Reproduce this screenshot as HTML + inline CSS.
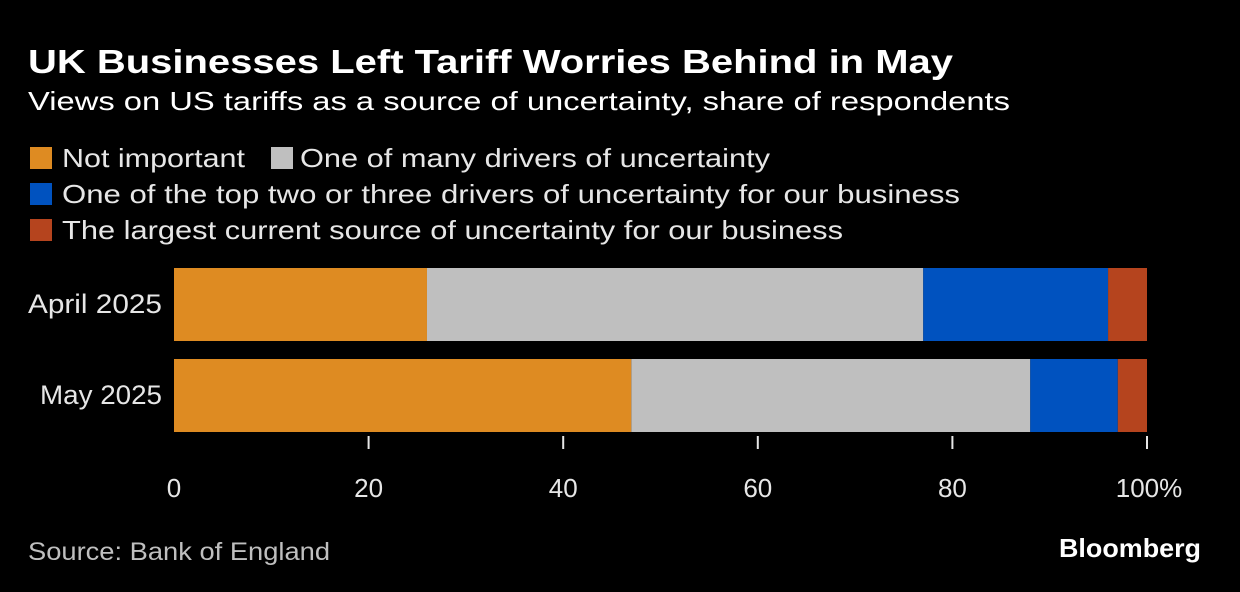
<!DOCTYPE html>
<html><head><meta charset="utf-8"><style>
html,body{margin:0;padding:0;background:#000;}
svg{display:block;font-family:"Liberation Sans",sans-serif;}
</style></head><body>
<svg id="chart" width="1240" height="592" viewBox="0 0 1240 592">
<rect width="1240" height="592" fill="#000"/>
<text x="28" y="73" fill="#fff" font-size="33" font-weight="bold" textLength="925" lengthAdjust="spacingAndGlyphs">UK Businesses Left Tariff Worries Behind in May</text>
<text x="28" y="110" fill="#fff" font-size="26" textLength="982" lengthAdjust="spacingAndGlyphs">Views on US tariffs as a source of uncertainty, share of respondents</text>
<g>
<rect x="30" y="147" width="22" height="22" fill="#de8b22"/>
<text x="62" y="167" fill="#e6e6e6" font-size="26" textLength="183" lengthAdjust="spacingAndGlyphs">Not important</text>
<rect x="271" y="147" width="22" height="22" fill="#bfbfbf"/>
<text x="300" y="167" fill="#e6e6e6" font-size="26" textLength="470" lengthAdjust="spacingAndGlyphs">One of many drivers of uncertainty</text>
<rect x="30" y="183" width="22" height="22" fill="#0052bf"/>
<text x="62" y="203" fill="#e6e6e6" font-size="26" textLength="898" lengthAdjust="spacingAndGlyphs">One of the top two or three drivers of uncertainty for our business</text>
<rect x="30" y="219" width="22" height="22" fill="#b5441e"/>
<text x="62" y="239" fill="#e6e6e6" font-size="26" textLength="781" lengthAdjust="spacingAndGlyphs">The largest current source of uncertainty for our business</text>
</g>
<g id="bars"></g>
<g id="axis"></g>
<text x="28" y="560" fill="#bfbfbf" font-size="25" textLength="302" lengthAdjust="spacingAndGlyphs">Source: Bank of England</text>
<text x="1059" y="557" fill="#fff" font-size="26" font-weight="bold" textLength="142" lengthAdjust="spacingAndGlyphs">Bloomberg</text>
</svg>
<script>
const categories = ["April 2025", "May 2025"];
const notImportant = [26, 47];
const oneOfMany = [51, 41];
const topTwoThree = [19, 9];
const largest = [4, 3];
const tickValues = [0, 20, 40, 60, 80, 100];
const tickLabels = ["0", "20", "40", "60", "80", "100%"];

const NS = "http://www.w3.org/2000/svg";
const x0 = 174, x1 = 1147;
const xScale = v => x0 + (x1 - x0) * v / 100;
const rowTop = [268, 359], barH = 73;
const labelWidths = [134, 122];
const series = [
  {name: "not-important", vals: notImportant, color: "#de8b22"},
  {name: "one-of-many", vals: oneOfMany, color: "#bfbfbf"},
  {name: "top-two-three", vals: topTwoThree, color: "#0052bf"},
  {name: "largest", vals: largest, color: "#b5441e"}
];
const barsG = document.getElementById("bars");
categories.forEach((c, i) => {
  let cum = 0;
  series.forEach(s => {
    const r = document.createElementNS(NS, "rect");
    
    
    r.setAttribute("x", xScale(cum));
    r.setAttribute("width", xScale(cum + s.vals[i]) - xScale(cum));
    r.setAttribute("y", rowTop[i]);
    r.setAttribute("height", barH);
    r.setAttribute("fill", s.color);
    barsG.appendChild(r);
    cum += s.vals[i];
  });
  const t = document.createElementNS(NS, "text");
  
  
  t.setAttribute("x", 162);
  t.setAttribute("y", rowTop[i] + 45);
  t.setAttribute("text-anchor", "end");
  t.setAttribute("fill", "#e6e6e6");
  t.setAttribute("font-size", "27");
  t.setAttribute("textLength", labelWidths[i]);
  t.setAttribute("lengthAdjust", "spacingAndGlyphs");
  t.textContent = c;
  barsG.appendChild(t);
});
const axisG = document.getElementById("axis");
tickValues.forEach((v, i) => {
  const x = xScale(v);
  if (v !== 0) {
    const l = document.createElementNS(NS, "line");
    
    
    l.setAttribute("x1", x); l.setAttribute("x2", x);
    l.setAttribute("y1", 436); l.setAttribute("y2", 449);
    l.setAttribute("stroke", "#e6e6e6"); l.setAttribute("stroke-width", "2");
    axisG.appendChild(l);
  }
  const t = document.createElementNS(NS, "text");
  
  
  t.setAttribute("x", v === 100 ? x + 2 : x);
  t.setAttribute("y", 497);
  t.setAttribute("text-anchor", "middle");
  t.setAttribute("fill", "#e6e6e6");
  t.setAttribute("font-size", "26");
  t.textContent = tickLabels[i];
  axisG.appendChild(t);
});
</script>
</body></html>
